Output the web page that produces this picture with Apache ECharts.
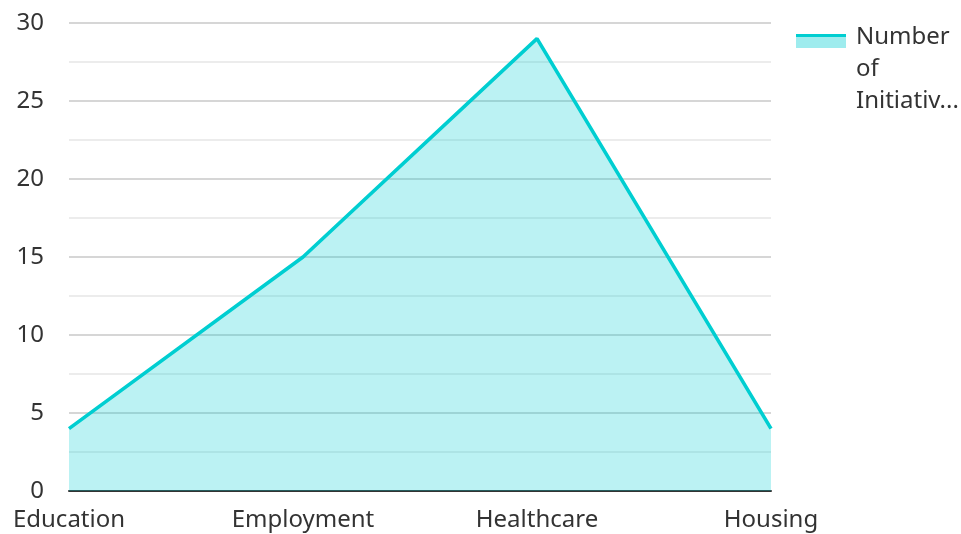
<!DOCTYPE html>
<html><head><meta charset="utf-8">
<script src="https://cdn.jsdelivr.net/npm/echarts@6/dist/echarts.min.js"></script>
<style>html,body{margin:0;padding:0;background:#fff}#c{width:961px;height:534px}</style>
</head><body><div id="c"></div>
<script>
const categories = ["Education", "Employment", "Healthcare", "Housing"];
const seriesName = "Number of Initiatives";
const values = [4, 15, 29, 4];

const lineColor = '#00CED1';
const areaColor = 'rgba(0,206,209,0.38)';

// wrap legend label word-by-word into at most 3 lines, truncating the last with an ellipsis
function wrapLegend(name) {
  const words = name.split(' ');
  const lines = words.slice(0, 2);
  let last = words.slice(2).join(' ');
  if (last.length > 9) last = last.slice(0, 9) + '...';
  lines.push(last);
  return lines.join('\n');
}

const chart = echarts.init(document.getElementById('c'), null, {renderer: 'canvas'});
chart.setOption({
  animation: false,
  textStyle: {fontFamily: 'Noto Sans'},
  grid: {left: 69, right: 190, top: 23, bottom: 43, containLabel: false},
  legend: {
    orient: 'vertical', left: 796, top: 16,
    icon: 'rect', itemWidth: 50, itemHeight: 14, itemGap: 10,
    itemStyle: {opacity: 0},
    formatter: wrapLegend,
    textStyle: {fontSize: 24, color: '#333', lineHeight: 32, fontFamily: 'Noto Sans'},
    data: [seriesName]
  },
  graphic: [
    {type: 'rect', left: 796, top: 34, shape: {width: 50, height: 14}, style: {fill: areaColor}, silent: true},
    {type: 'rect', left: 796, top: 34, shape: {width: 50, height: 3}, style: {fill: lineColor}, silent: true}
  ],
  xAxis: {
    type: 'category', data: categories, boundaryGap: false,
    axisLine: {lineStyle: {color: '#333', width: 2}},
    axisTick: {show: false},
    axisLabel: {fontSize: 24, color: '#333', margin: 17, fontFamily: 'Noto Sans'}
  },
  yAxis: {
    type: 'value', min: 0, max: 30, interval: 5,
    axisLine: {show: false}, axisTick: {show: false},
    axisLabel: {fontSize: 24, color: '#333', margin: 25, fontFamily: 'Noto Sans'},
    splitLine: {lineStyle: {color: '#c8c8c8', width: 1.5}},
    minorTick: {show: false, splitNumber: 2},
    minorSplitLine: {show: true, lineStyle: {color: '#e6e6e6', width: 1.5}}
  },
  series: [{
    name: seriesName, type: 'line', data: values,
    showSymbol: false, symbol: 'none',
    lineStyle: {color: lineColor, width: 3.6},
    itemStyle: {color: lineColor},
    areaStyle: {color: areaColor}
  }]
});
</script></body></html>
